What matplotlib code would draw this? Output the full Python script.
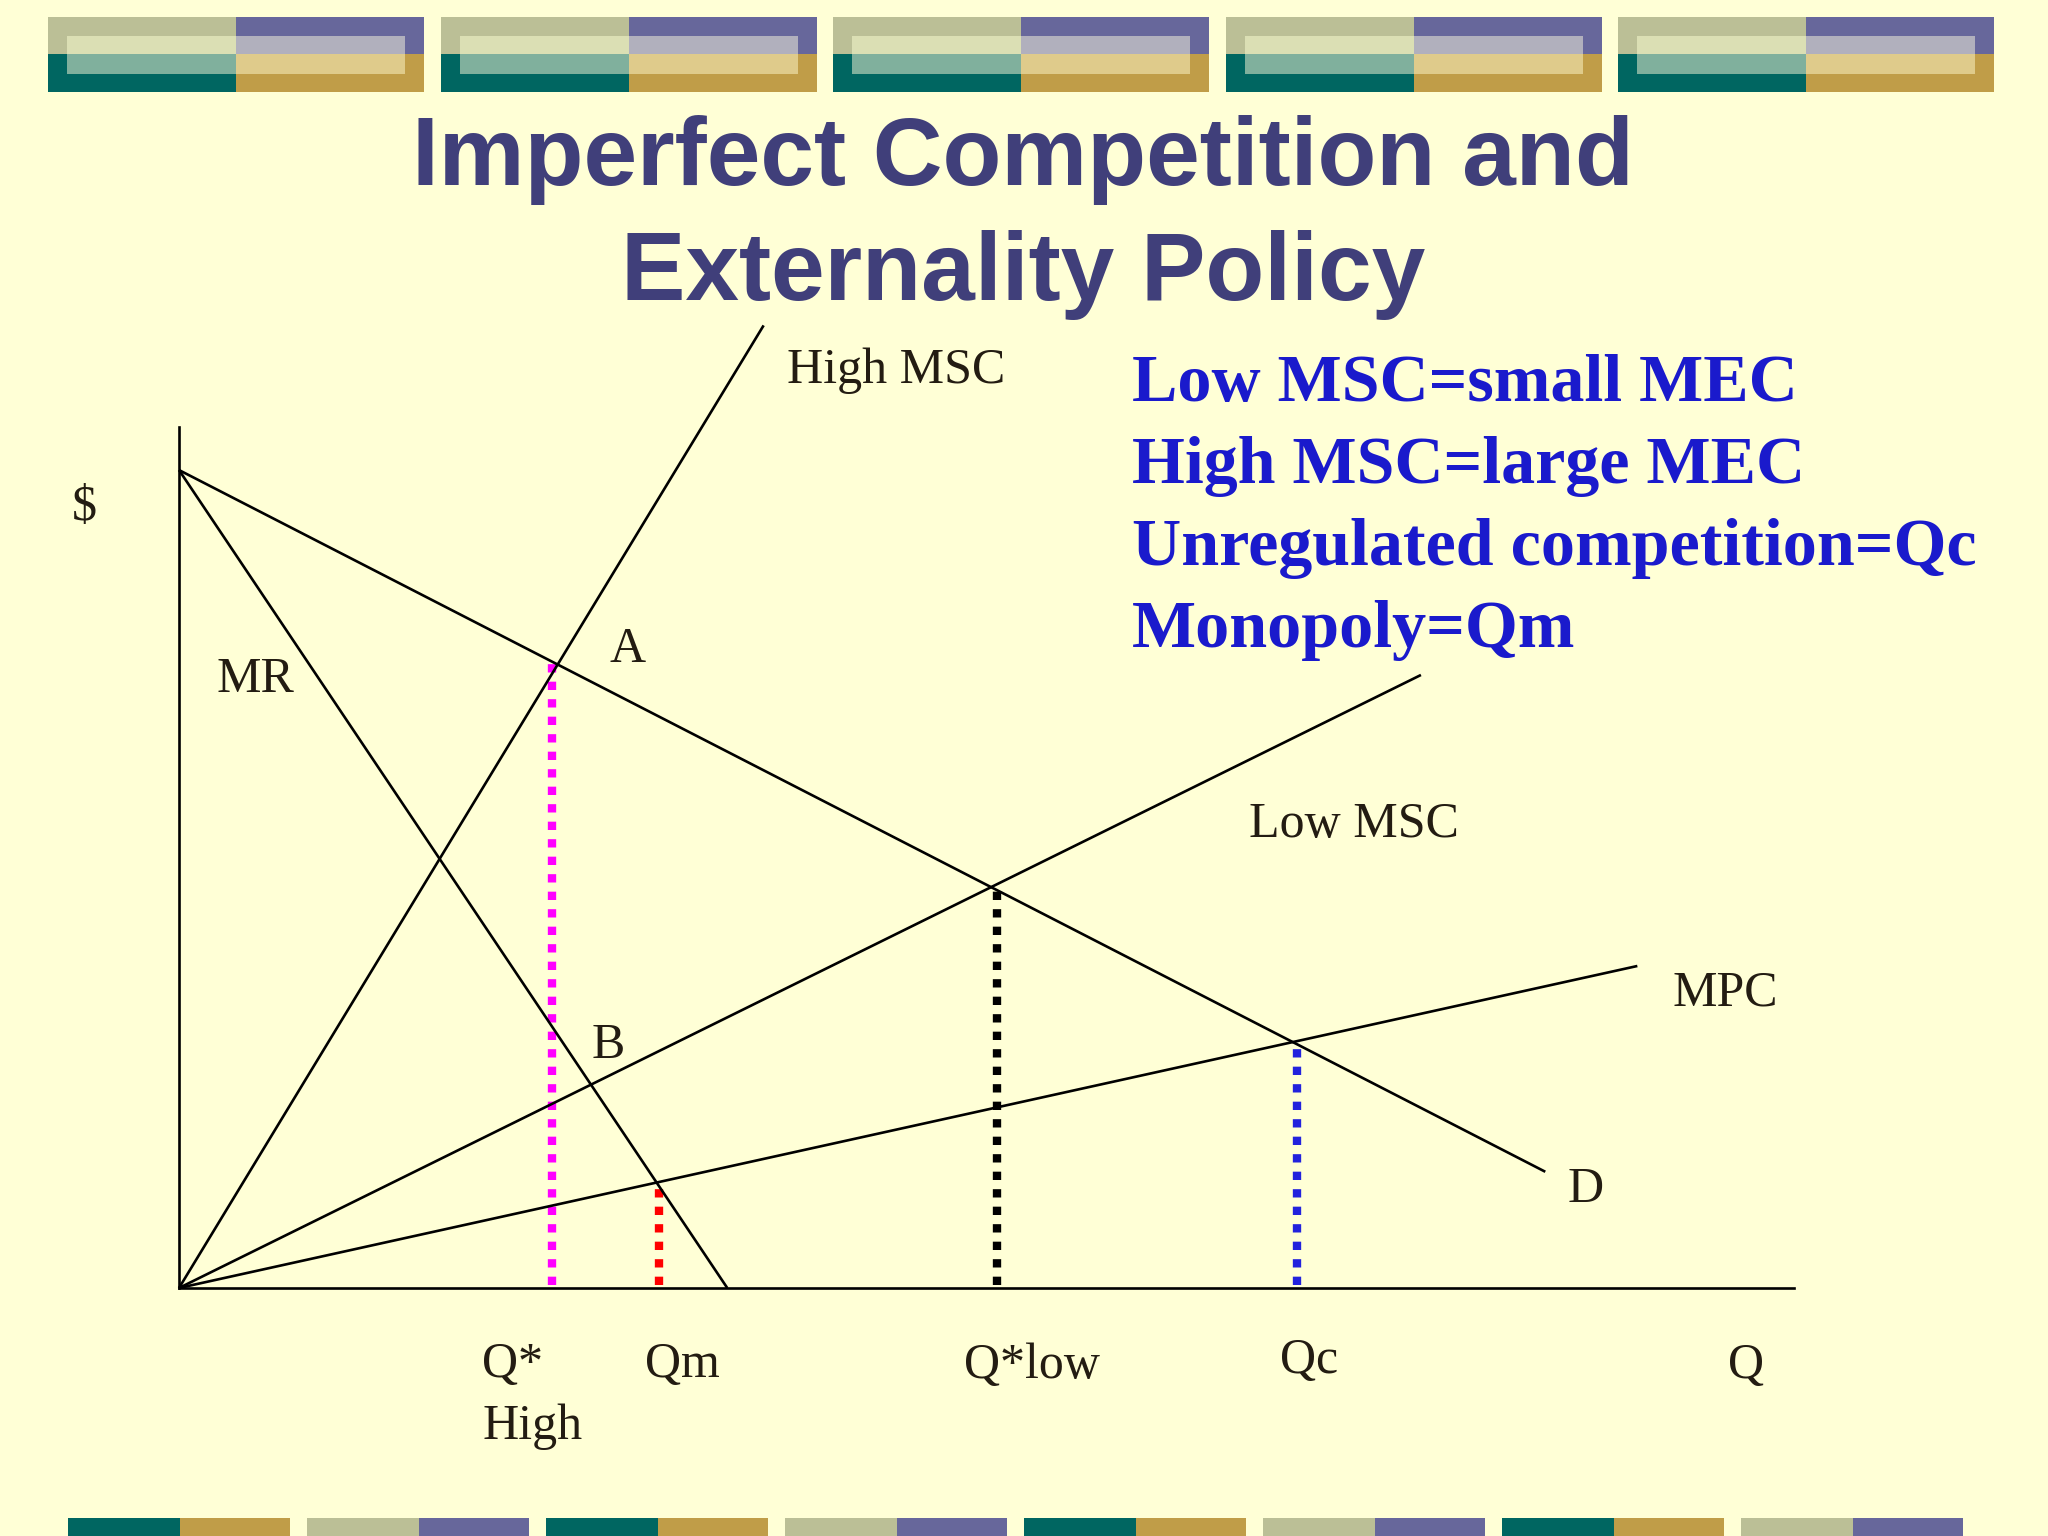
import numpy as np
import matplotlib
matplotlib.use("Agg")
import matplotlib.pyplot as plt
from matplotlib.patches import Rectangle

# curves: (Q, $) end points, origin of the chart at (0, 0)
demand_q = [0, 84.6]
demand_p = [95.0, 13.5]
mr_q = [0, 33.95]
mr_p = [95.0, 0]
high_msc_q = [0, 36.2]
high_msc_p = [0, 111.8]
low_msc_q = [0, 76.9]
low_msc_p = [0, 71.2]
mpc_q = [0, 90.3]
mpc_p = [0, 37.4]

# dotted quantity markers and the curve each one stops at
mark_q = [23.1, 29.7, 50.65, 69.2]
mark_curve = ["demand", "mpc", "demand", "demand"]
mark_colors = ["#ff00ff", "#ff0000", "#000000", "#2222dd"]

bg = "#ffffd6"
ink = "#231c12"
title_col = "#403f7a"
blue = "#1a1acc"

fig = plt.figure(figsize=(20.48, 15.36), dpi=100, facecolor=bg)

# full figure layer in pixel coords for the banners and the text
deco = fig.add_axes([0, 0, 1, 1])
deco.set_xlim(0, 2048)
deco.set_ylim(1536, 0)
deco.axis("off")
deco.set_facecolor(bg)

khaki, purple, teal, gold = "#bbbf96", "#67679b", "#006661", "#c09d48"
lkhaki, lgrey, lteal, lgold = "#dbdfb4", "#b1b0bd", "#80b09d", "#dfcb8b"

for x0 in [48, 441, 833, 1226, 1618]:
    deco.add_patch(Rectangle((x0, 17), 188, 37, color=khaki, lw=0))
    deco.add_patch(Rectangle((x0 + 188, 17), 188, 37, color=purple, lw=0))
    deco.add_patch(Rectangle((x0, 54), 188, 38, color=teal, lw=0))
    deco.add_patch(Rectangle((x0 + 188, 54), 188, 38, color=gold, lw=0))
    deco.add_patch(Rectangle((x0 + 19, 36), 169, 18, color=lkhaki, lw=0))
    deco.add_patch(Rectangle((x0 + 188, 36), 169, 18, color=lgrey, lw=0))
    deco.add_patch(Rectangle((x0 + 19, 54), 169, 20, color=lteal, lw=0))
    deco.add_patch(Rectangle((x0 + 188, 54), 169, 20, color=lgold, lw=0))

for i in range(8):
    x0 = 68 + 239 * i
    left, right = (teal, gold) if i % 2 == 0 else (khaki, purple)
    deco.add_patch(Rectangle((x0, 1518), 112, 20, color=left, lw=0))
    deco.add_patch(Rectangle((x0 + 112, 1518), 110, 20, color=right, lw=0))

title_font = dict(family="Liberation Sans", weight="bold", size=69.5, color=title_col)
deco.text(1023, 185, "Imperfect Competition and", ha="center", va="baseline", **title_font)
deco.text(1023, 300, "Externality Policy", ha="center", va="baseline", **title_font)

lab = dict(family="Liberation Serif", size=36, color=ink, va="baseline", ha="left")
deco.text(72, 520, "$", **lab)
deco.text(787, 383, "High MSC", **lab)
deco.text(217, 692, "MR", **lab)
deco.text(609, 662, "A", **lab)
deco.text(592, 1058, "B", **lab)
deco.text(1249, 837, "Low MSC", **lab)
deco.text(1672, 1006, "MPC", **lab)
deco.text(1568, 1202, "D", **lab)
deco.text(482, 1377, "Q*", **lab)
deco.text(482, 1439, "High", **lab)
deco.text(645, 1377, "Qm", **lab)
deco.text(964, 1378, "Q*low", **lab)
deco.text(1280, 1373, "Qc", **lab)
deco.text(1728, 1378, "Q", **lab)

notes = ["Low MSC=small MEC", "High MSC=large MEC",
         "Unregulated competition=Qc", "Monopoly=Qm"]
for k, s in enumerate(notes):
    deco.text(1132, 401 + 82 * k, s, family="Liberation Serif", weight="bold",
              size=49, color=blue, ha="left", va="baseline")

# chart axes: Q 0..100 spans pixels 179..1794, $ 0..100 spans 1288..427
ax = fig.add_axes([179 / 2048, 1 - 1288 / 1536, (1794 - 179) / 2048, (1288 - 427) / 1536])
ax.patch.set_alpha(0)
ax.set_xlim(0, 100)
ax.set_ylim(0, 100)
for s in ["top", "right"]:
    ax.spines[s].set_visible(False)
for s in ["left", "bottom"]:
    ax.spines[s].set_linewidth(1.9)
    ax.spines[s].set_color("black")
ax.set_xticks([])
ax.set_yticks([])

lw = 1.9
for q, p in [(demand_q, demand_p), (mr_q, mr_p), (high_msc_q, high_msc_p),
             (low_msc_q, low_msc_p), (mpc_q, mpc_p)]:
    ax.plot(q, p, color="black", lw=lw, clip_on=False, solid_capstyle="butt")

curves = {"demand": (demand_q, demand_p), "mpc": (mpc_q, mpc_p)}
for q, c, col in zip(mark_q, mark_curve, mark_colors):
    top = np.interp(q, curves[c][0], curves[c][1])
    ax.plot([q, q], [0.3, top], color=col, lw=6, linestyle=(0, (1.0, 1.1)),
            dash_capstyle="butt", zorder=1)

fig.savefig("out.png", dpi=100, facecolor=bg)
